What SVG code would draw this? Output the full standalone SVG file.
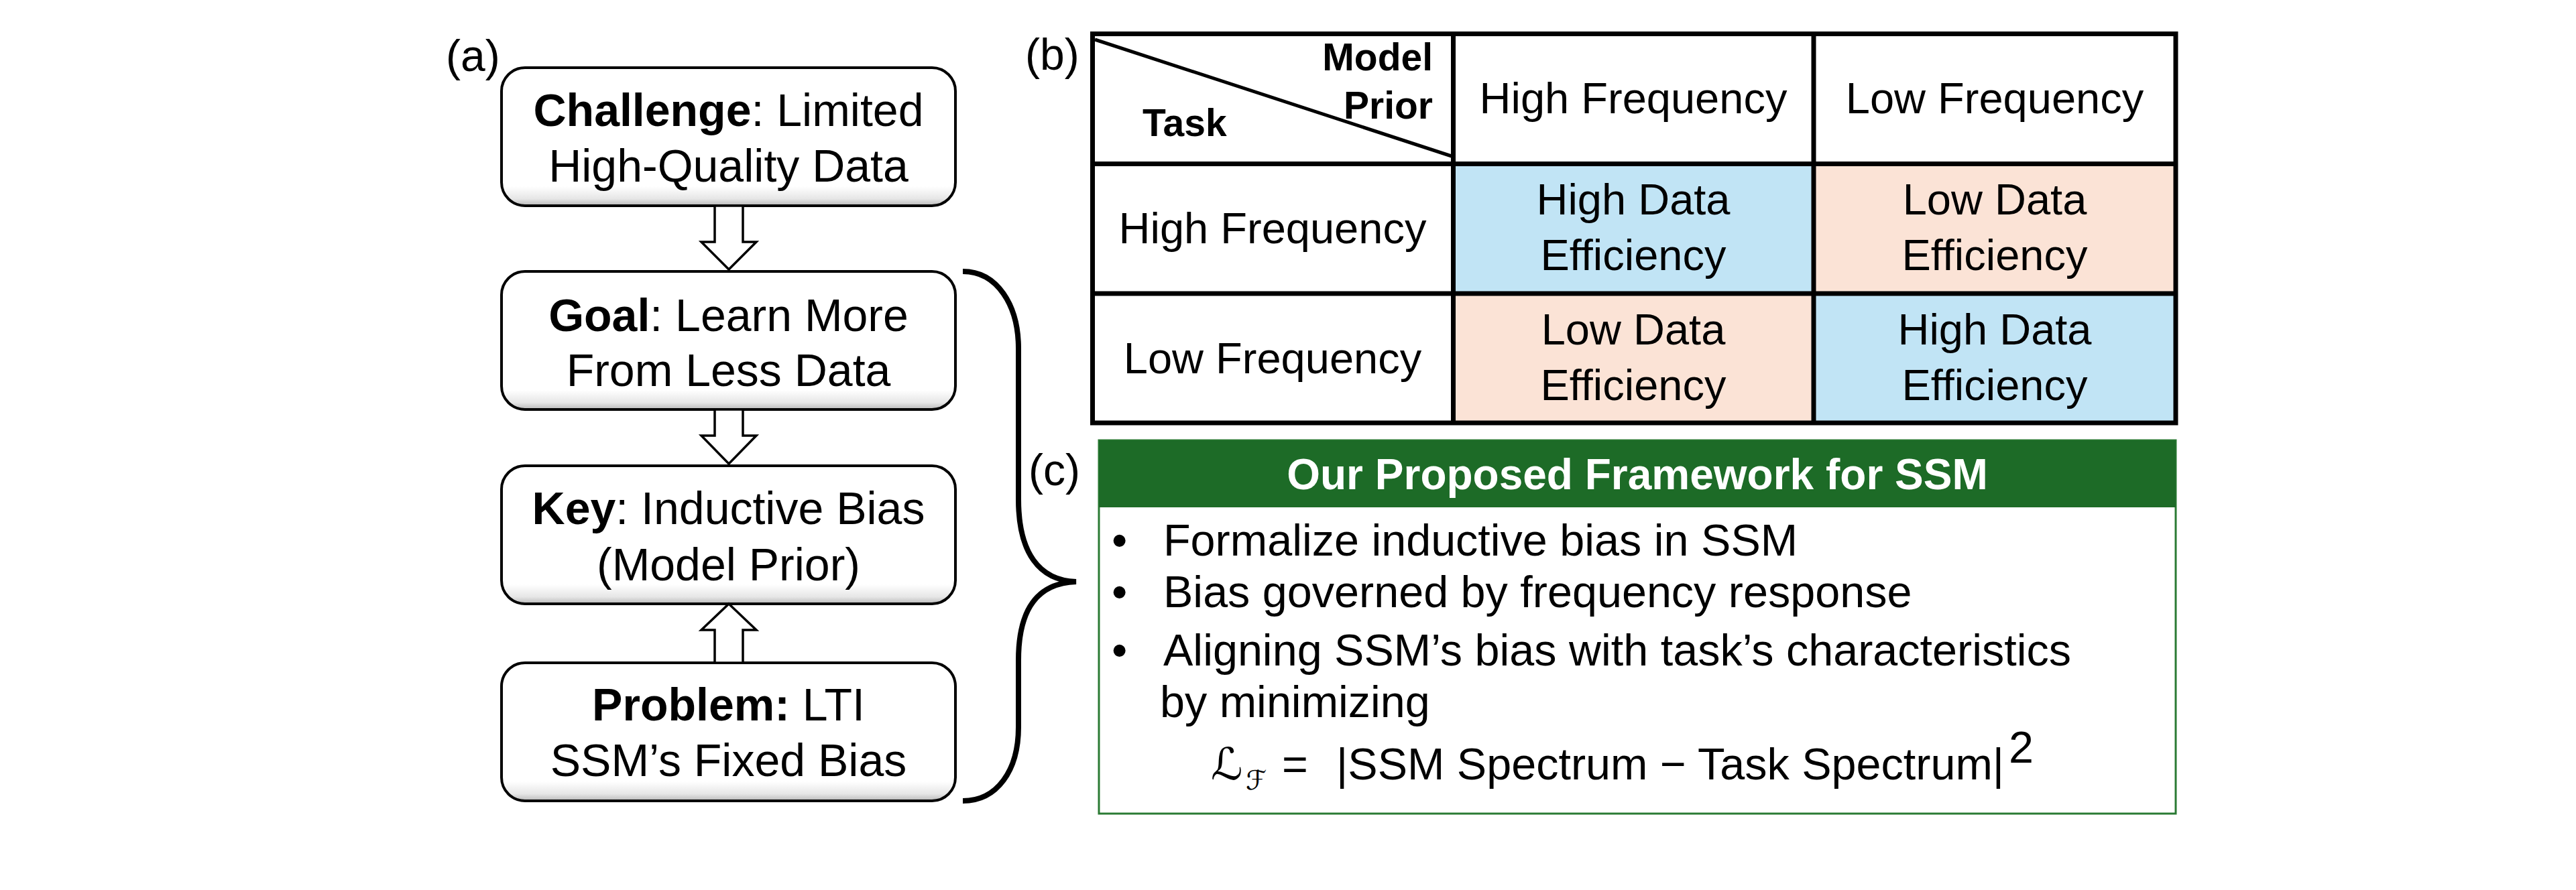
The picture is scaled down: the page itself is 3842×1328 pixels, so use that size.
<svg xmlns="http://www.w3.org/2000/svg" width="3842" height="1328" viewBox="0 0 3842 1328">
<defs>
<linearGradient id="boxg" x1="0" y1="0" x2="0" y2="1">
<stop offset="0" stop-color="#ffffff"/>
<stop offset="0.86" stop-color="#ffffff"/>
<stop offset="0.95" stop-color="#e6e6e6"/>
<stop offset="1" stop-color="#b8b8b8"/>
</linearGradient>
<style>
.box{fill:url(#boxg);stroke:#000;stroke-width:4}
.bt{font-family:"Liberation Sans",Arial,sans-serif;font-size:68px;text-anchor:middle;fill:#000}
.b{font-weight:bold}
.arr{fill:#fff;stroke:#000;stroke-width:3.5;stroke-linejoin:miter}
.lbl{font-family:"Liberation Sans",Arial,sans-serif;font-size:66px;fill:#000}
.tt{font-family:"Liberation Sans",Arial,sans-serif;font-size:65px;text-anchor:middle;fill:#000}
.th{font-family:"Liberation Sans",Arial,sans-serif;font-size:57px;font-weight:bold;fill:#000}
.grid{stroke:#000;stroke-width:7;fill:none}
.ct{font-family:"Liberation Sans",Arial,sans-serif;font-size:66.5px;fill:#000}
.math{font-family:"DejaVu Serif","DejaVu Sans",serif;fill:#000}
</style>
</defs>
<rect width="3842" height="1328" fill="#fff"/>

<!-- panel labels -->
<text class="lbl" x="665" y="106">(a)</text>
<text class="lbl" x="1529" y="104">(b)</text>
<text class="lbl" x="1534" y="724">(c)</text>

<!-- (a) flow nodes -->
<g id="challenge">
<rect class="box" x="748" y="101" width="677" height="206" rx="35"/>
<text class="bt" x="1086.5" y="188"><tspan class="b">Challenge</tspan>: Limited</text>
<text class="bt" x="1086.5" y="271">High-Quality Data</text>
</g>
<g id="goal">
<rect class="box" x="748" y="405" width="677" height="206" rx="35"/>
<text class="bt" x="1086.5" y="494"><tspan class="b">Goal</tspan>: Learn More</text>
<text class="bt" x="1086.5" y="576">From Less Data</text>
</g>
<g id="key">
<rect class="box" x="748" y="695" width="677" height="206" rx="35"/>
<text class="bt" x="1086.5" y="782"><tspan class="b">Key</tspan>: Inductive Bias</text>
<text class="bt" x="1086.5" y="866">(Model Prior)</text>
</g>
<g id="problem">
<rect class="box" x="748" y="989" width="677" height="206" rx="35"/>
<text class="bt" x="1086.5" y="1075"><tspan class="b">Problem:</tspan> LTI</text>
<text class="bt" x="1086.5" y="1158">SSM’s Fixed Bias</text>
</g>

<!-- connectors -->
<g id="connectors">
<polygon class="arr" points="1066,307 1108,307 1108,361 1128,361 1087,402 1046,361 1066,361"/>
<polygon class="arr" points="1066,611 1108,611 1108,650 1128,650 1087,692 1046,650 1066,650"/>
<polygon class="arr" points="1087,901 1128,940 1108,940 1108,989 1066,989 1066,940 1046,940"/>
<path d="M1436,405 C1487,405 1519,455 1519,520 L1519,745 C1519,825 1550,866 1605,868 C1550,870 1519,905 1519,985 L1519,1085 C1519,1150 1487,1195 1436,1195" fill="none" stroke="#000" stroke-width="8"/>
</g>

<!-- (b) table -->
<g id="table">
<rect x="2167" y="244" width="538" height="194" fill="#C1E4F5"/>
<rect x="2705" y="244" width="540" height="194" fill="#FBE3D6"/>
<rect x="2167" y="438" width="538" height="193" fill="#FBE3D6"/>
<rect x="2705" y="438" width="540" height="193" fill="#C1E4F5"/>
<rect class="grid" x="1629.5" y="50.5" width="1615.5" height="580.5"/>
<line class="grid" x1="2167.5" y1="50" x2="2167.5" y2="631"/>
<line class="grid" x1="2705" y1="50" x2="2705" y2="631"/>
<line class="grid" x1="1629" y1="244.5" x2="3245" y2="244.5"/>
<line class="grid" x1="1629" y1="438" x2="3245" y2="438"/>
<line x1="1633" y1="59" x2="2165" y2="233" stroke="#000" stroke-width="5"/>
<text class="th" x="2137" y="105" text-anchor="end">Model</text>
<text class="th" x="2137" y="177" text-anchor="end">Prior</text>
<text class="th" x="1704" y="203">Task</text>
<text class="tt" x="2436" y="169">High Frequency</text>
<text class="tt" x="2975" y="169">Low Frequency</text>
<text class="tt" x="1898" y="363">High Frequency</text>
<text class="tt" x="1898" y="557">Low Frequency</text>
<text class="tt" x="2436" y="320">High Data</text>
<text class="tt" x="2436" y="403">Efficiency</text>
<text class="tt" x="2975" y="320">Low Data</text>
<text class="tt" x="2975" y="403">Efficiency</text>
<text class="tt" x="2436" y="514">Low Data</text>
<text class="tt" x="2436" y="597">Efficiency</text>
<text class="tt" x="2975" y="514">High Data</text>
<text class="tt" x="2975" y="597">Efficiency</text>
</g>

<!-- (c) framework box -->
<g id="framework">
<rect x="1639" y="657" width="1606" height="557" fill="#fff" stroke="#2A7A33" stroke-width="3"/>
<rect x="1639" y="657" width="1606" height="100" fill="#1D6B27"/>
<text x="2442" y="730" font-family="'Liberation Sans',Arial,sans-serif" font-size="64" font-weight="bold" fill="#fff" text-anchor="middle">Our Proposed Framework for SSM</text>
<text class="ct" x="1658" y="829">•</text>
<text class="ct" x="1735" y="829">Formalize inductive bias in SSM</text>
<text class="ct" x="1658" y="906">•</text>
<text class="ct" x="1735" y="906">Bias governed by frequency response</text>
<text class="ct" x="1658" y="993">•</text>
<text class="ct" x="1735" y="993">Aligning SSM’s bias with task’s characteristics</text>
<text class="ct" x="1730" y="1070">by minimizing</text>
<text class="math" x="1806" y="1163" font-size="66">ℒ</text>
<text class="math" x="1858" y="1178" font-size="40">ℱ</text>
<text class="ct" x="1912" y="1163" font-size="65">=</text>
<text class="ct" x="1993" y="1163" font-size="65">|SSM Spectrum − Task Spectrum|</text>
<text class="ct" x="2996" y="1138" font-size="44">2</text>
</g>
</svg>
